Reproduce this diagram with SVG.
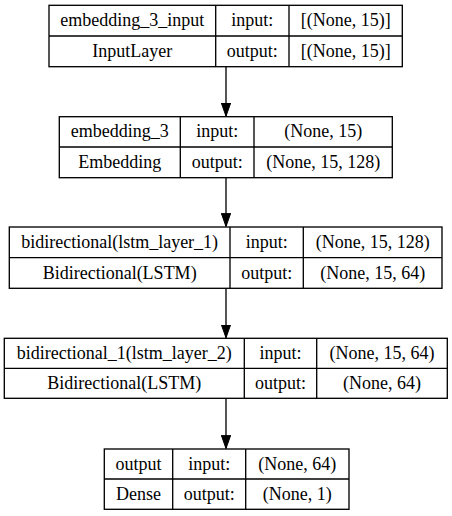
<svg xmlns="http://www.w3.org/2000/svg" width="452" height="516" viewBox="0 0 452 516">
<style>
.box{fill:#fff;stroke:#000;stroke-width:1.33}
.sep{stroke:#000;stroke-width:1.33}
.t text{font-family:"Liberation Serif","Times New Roman",Times,serif;font-size:18px;fill:#000;text-anchor:middle}
.edge{stroke:#000;stroke-width:1.33;fill:none}
</style>
<defs>
<marker id="arr" markerUnits="userSpaceOnUse" viewBox="0 -4.7 13.3 9.4" markerWidth="13.3" markerHeight="9.4" refX="13.3" refY="0" orient="auto">
<path d="M0,-4.7 L13.3,0 L0,4.7 Z" fill="#000" stroke="#000" stroke-width="1"/>
</marker>
</defs>
<rect width="452" height="516" fill="#fff"/>
<g id="connectors">
<line class="edge" x1="226" y1="66.7" x2="226" y2="116.2" marker-end="url(#arr)"/>
<line class="edge" x1="226" y1="177.7" x2="226" y2="226.5" marker-end="url(#arr)"/>
<line class="edge" x1="226" y1="288.3" x2="226" y2="337.8" marker-end="url(#arr)"/>
<line class="edge" x1="226" y1="398.3" x2="226" y2="448.5" marker-end="url(#arr)"/>
</g>
<g id="node-embedding_3_input" class="t">
<rect class="box" x="49" y="5.3" width="353.3" height="61.4"/>
<line class="sep" x1="49" y1="36" x2="402.3" y2="36"/>
<line class="sep" x1="215.7" y1="5.3" x2="215.7" y2="66.7"/>
<line class="sep" x1="289" y1="5.3" x2="289" y2="66.7"/>
<text x="132.35" y="26.25">embedding_3_input</text>
<text x="132.35" y="56.95">InputLayer</text>
<text x="252.35" y="26.25">input:</text>
<text x="252.35" y="56.95">output:</text>
<text x="345.65" y="26.25">[(None, 15)]</text>
<text x="345.65" y="56.95">[(None, 15)]</text>
</g>
<g id="node-embedding_3" class="t">
<rect class="box" x="59.3" y="116.7" width="333" height="61"/>
<line class="sep" x1="59.3" y1="147" x2="392.3" y2="147"/>
<line class="sep" x1="180.3" y1="116.7" x2="180.3" y2="177.7"/>
<line class="sep" x1="254" y1="116.7" x2="254" y2="177.7"/>
<text x="119.8" y="137.45">embedding_3</text>
<text x="119.8" y="167.95">Embedding</text>
<text x="217.15" y="137.45">input:</text>
<text x="217.15" y="167.95">output:</text>
<text x="323.15" y="137.45">(None, 15)</text>
<text x="323.15" y="167.95">(None, 15, 128)</text>
</g>
<g id="node-bidirectional" class="t">
<rect class="box" x="9.3" y="227" width="432.7" height="61.3"/>
<line class="sep" x1="9.3" y1="257.7" x2="442" y2="257.7"/>
<line class="sep" x1="230" y1="227" x2="230" y2="288.3"/>
<line class="sep" x1="303.3" y1="227" x2="303.3" y2="288.3"/>
<text x="119.65" y="247.95">bidirectional(lstm_layer_1)</text>
<text x="119.65" y="278.6">Bidirectional(LSTM)</text>
<text x="266.65" y="247.95">input:</text>
<text x="266.65" y="278.6">output:</text>
<text x="372.65" y="247.95">(None, 15, 128)</text>
<text x="372.65" y="278.6">(None, 15, 64)</text>
</g>
<g id="node-bidirectional_1" class="t">
<rect class="box" x="4.3" y="338.3" width="443" height="60"/>
<line class="sep" x1="4.3" y1="368.3" x2="447.3" y2="368.3"/>
<line class="sep" x1="244.3" y1="338.3" x2="244.3" y2="398.3"/>
<line class="sep" x1="316.7" y1="338.3" x2="316.7" y2="398.3"/>
<text x="124.3" y="358.9">bidirectional_1(lstm_layer_2)</text>
<text x="124.3" y="388.9">Bidirectional(LSTM)</text>
<text x="280.5" y="358.9">input:</text>
<text x="280.5" y="388.9">output:</text>
<text x="382" y="358.9">(None, 15, 64)</text>
<text x="382" y="388.9">(None, 64)</text>
</g>
<g id="node-output" class="t">
<rect class="box" x="104.3" y="449" width="244.7" height="60.3"/>
<line class="sep" x1="104.3" y1="479" x2="349" y2="479"/>
<line class="sep" x1="172.7" y1="449" x2="172.7" y2="509.3"/>
<line class="sep" x1="245.7" y1="449" x2="245.7" y2="509.3"/>
<text x="138.5" y="469.6">output</text>
<text x="138.5" y="499.75">Dense</text>
<text x="209.2" y="469.6">input:</text>
<text x="209.2" y="499.75">output:</text>
<text x="297.35" y="469.6">(None, 64)</text>
<text x="297.35" y="499.75">(None, 1)</text>
</g>
</svg>
